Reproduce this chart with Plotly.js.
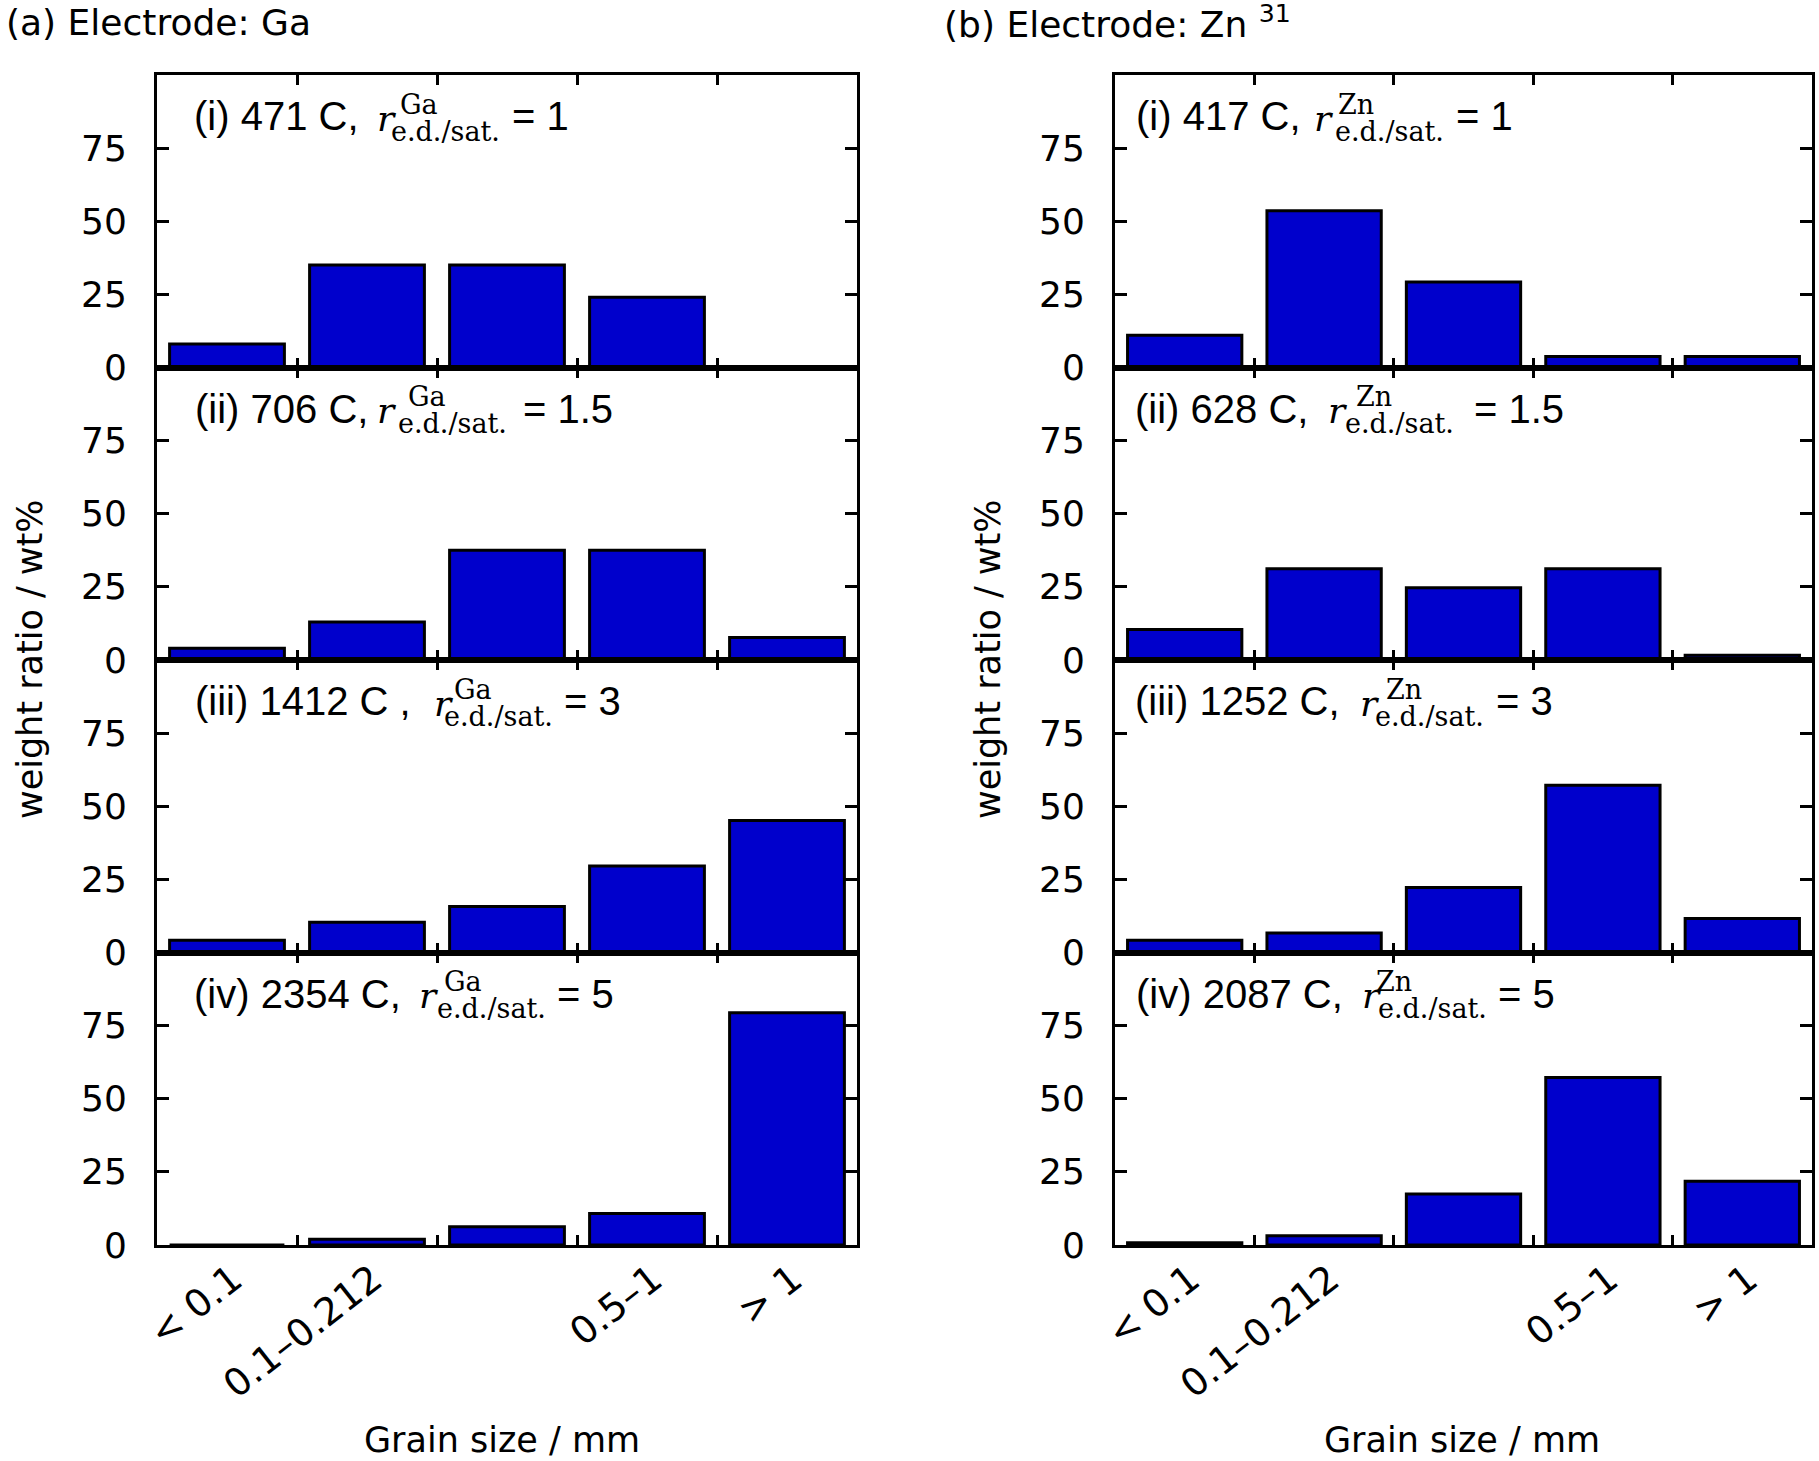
<!DOCTYPE html>
<html>
<head>
<meta charset="utf-8">
<script src="https://cdn.plot.ly/plotly-3.0.1.min.js"></script>
<style>html,body{margin:0;padding:0;background:#fff;}#chart{width:1819px;height:1461px;}</style>
</head>
<body>
<div id="chart"></div>
<script>
// ---------- data ----------
const categories = ["<0.1", "0.1–0.212", "0.212–0.5", "0.5–1", ">1"];
const tickLabels = ["< 0.1", "0.1–0.212", "", "0.5–1", "> 1"];
const yTickVals = [0, 25, 50, 75];

const gaI   = [8, 35, 35, 24, 0];
const gaII  = [4, 13, 37.5, 37.5, 7.7];
const gaIII = [4.2, 10.3, 15.7, 29.6, 45.1];
const gaIV  = [0, 2, 6.2, 10.8, 79.4];

const znI   = [11, 53.6, 29.2, 3.8, 3.8];
const znII  = [10.4, 31.2, 24.7, 31.2, 1.6];
const znIII = [4.2, 6.7, 22.2, 57.2, 11.6];
const znIV  = [0.8, 3.2, 17.4, 57.3, 21.8];

const gaRoman = ["(i)", "(ii)", "(iii)", "(iv)"];
const gaCharge = ["471 C,", "706 C,", "1412 C ,", "2354 C,"];
const znCharge = ["417 C,", "628 C,", "1252 C,", "2087 C,"];
const ratios = ["1", "1.5", "3", "5"];

const panelTitles = ["(a) Electrode: Ga", "(b) Electrode: Zn <sup>31</sup>"];
const yTitle = "weight ratio / wt%";
const xTitle = "Grain size / mm";

// ---------- layout helpers ----------
const W = 1819, H = 1461;
const fx = p => p / W;
const fy = p => 1 - p / H;
const SANS = "DejaVu Sans, sans-serif";
const ARIAL = "Liberation Sans, Arial, sans-serif";
const SERIF = "DejaVu Serif, serif";
const cols = [[157, 857], [1115, 1812]];
const frameTop = 75, frameBot = 1245, rowH = (frameBot - frameTop) / 4;

const series = [[gaI, gaII, gaIII, gaIV], [znI, znII, znIII, znIV]];

const data = [];
const layout = {
  width: W, height: H, autosize: false,
  margin: {l: 0, r: 0, t: 0, b: 0},
  paper_bgcolor: "white", plot_bgcolor: "white",
  showlegend: false, bargap: 0.18,
  font: {family: SANS, color: "black"},
  annotations: []
};

for (let c = 0; c < 2; c++) {
  for (let r = 0; r < 4; r++) {
    const n = c * 4 + r + 1;
    data.push({
      type: "bar", x: categories, y: series[c][r],
      xaxis: "x" + n, yaxis: "y" + n,
      marker: {color: "#0000CC", line: {color: "black", width: 3}},
      hoverinfo: "skip"
    });
    const yT = frameTop + r * rowH, yB = frameTop + (r + 1) * rowH;
    layout["xaxis" + n] = {
      domain: [fx(cols[c][0]), fx(cols[c][1])],
      anchor: "y" + n, type: "category",
      categoryorder: "array", categoryarray: categories,
      range: [-0.5, 4.5],
      tickmode: "array", tickvals: categories, ticktext: tickLabels,
      tickson: "boundaries",
      ticks: "inside", ticklen: 10, tickwidth: 3, tickcolor: "black",
      showline: true, linewidth: 3, linecolor: "black", mirror: "ticks",
      showgrid: false, zeroline: false,
      showticklabels: r === 3, tickangle: -38,
      ticklabelstandoff: -6, ticklabelshift: 6,
      tickfont: {family: SANS, size: 38, color: "black"},
      fixedrange: true
    };
    layout["yaxis" + n] = {
      domain: [fy(yB), fy(yT)],
      anchor: "x" + n, range: [0, 100],
      tickmode: "array", tickvals: yTickVals,
      ticks: "inside", ticklen: 12, tickwidth: 3, tickcolor: "black",
      showline: true, linewidth: 3, linecolor: "black", mirror: "ticks",
      showgrid: false, zeroline: false,
      ticklabelstandoff: 20,
      tickfont: {family: SANS, size: 36, color: "black"},
      fixedrange: true
    };
  }
}

// panel labels with stacked super/subscript
const labelPos = [
  [[192, 375, 398, 389, 510], [193, 375, 406, 396, 521], [193, 432, 452, 442, 562], [192, 417, 442, 435, 555]],
  [[1134, 1312, 1336, 1333, 1454], [1133, 1326, 1354, 1343, 1472], [1133, 1358, 1384, 1373, 1494], [1134, 1360, 1374, 1376, 1496]]
];
const elem = ["Ga", "Zn"];
const charges = [gaCharge, znCharge];
function ann(x, y, text, size, family, xanchor) {
  layout.annotations.push({
    xref: "paper", yref: "paper", x: fx(x), y: fy(y),
    xanchor: xanchor || "left", yanchor: "middle",
    text: text, showarrow: false,
    font: {family: family, size: size, color: "black"}
  });
}
for (let c = 0; c < 2; c++) {
  for (let r = 0; r < 4; r++) {
    const p = labelPos[c][r];
    const yc = frameTop + r * rowH + 41;
    ann(p[0], yc, gaRoman[r] + " " + charges[c][r], 40, ARIAL);
    ann(p[1], yc + 2, "<i>r</i>", 36, SERIF);
    ann(p[2], yc - 12, elem[c], 27, SERIF);
    ann(p[3], yc + 15, "e.d./sat.", 27, SERIF);
    ann(p[4], yc, "= " + ratios[r], 40, ARIAL);
  }
}

// headings and axis titles
ann(4, 22, panelTitles[0], 36, SANS);
ann(942, 22, panelTitles[1], 36, SANS);
ann(502, 1440, xTitle, 35, SANS, "center");
ann(1462, 1440, xTitle, 35, SANS, "center");
[30, 988].forEach(x => {
  layout.annotations.push({
    xref: "paper", yref: "paper", x: fx(x), y: fy((frameTop + frameBot) / 2),
    xanchor: "center", yanchor: "middle", textangle: -90,
    text: yTitle, showarrow: false,
    font: {family: SANS, size: 35, color: "black"}
  });
});

Plotly.newPlot("chart", data, layout, {displayModeBar: false, staticPlot: true});
</script>
</body>
</html>
